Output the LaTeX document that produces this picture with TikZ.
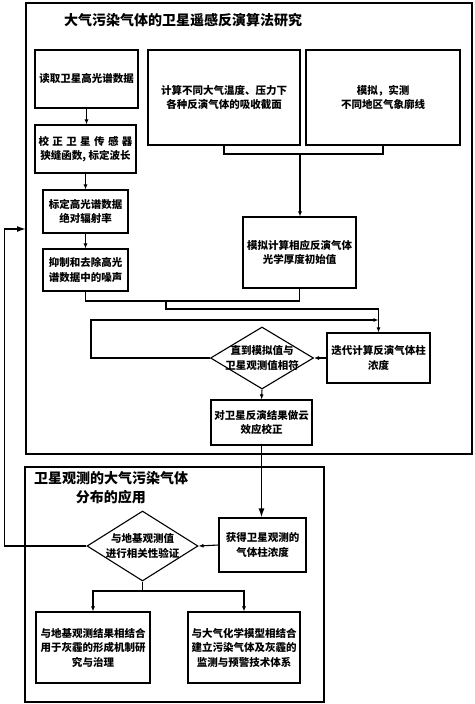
\documentclass[tikz,border=0pt]{standalone}
\usepackage{fontspec}
\setmainfont{Noto Sans CJK SC}
\usetikzlibrary{arrows.meta,shapes.geometric}

\begin{document}
\begin{tikzpicture}[x=1pt,y=-1pt,>={Latex[length=5pt,width=4pt]},
    every node/.style={font=\fontsize{10.5}{14.5}\selectfont\bfseries},
    box/.style={draw,line width=1.1pt,align=center,inner sep=1pt},
    dia/.style={draw,diamond,line width=1.1pt,inner sep=0pt},
    frame/.style={draw,line width=1.8pt,inner sep=0pt},
    line/.style={line width=1.1pt},
    big/.style={line width=1.5pt,-{Latex[length=9pt,width=6pt]}},
    head/.style={font=\fontsize{14}{19}\selectfont\bfseries,align=center}]
\useasboundingbox (0,0) rectangle (474,704);
\node[frame,minimum width=446pt,minimum height=451pt] (alg) at (249,228.5) {};
\node[frame,minimum width=299pt,minimum height=235pt] (app) at (174.5,584.5) {};
\node[head] (t1) at (183,20) {大气污染气体的卫星遥感反演算法研究};
\node[head] (t2) at (111,487.5) {卫星观测的大气污染气体\\分布的应用};
\node[box,minimum width=103pt,minimum height=58pt] (A) at (86.5,79) {读取卫星高光谱数据};
\node[box,minimum width=152pt,minimum height=95pt] (B) at (224,97.5)
    {计算不同大气温度、压力下\\各种反演气体的吸收截面};
\node[box,minimum width=154pt,minimum height=95pt] (C) at (383,97.5)
    {模拟，实测\\不同地区气象廓线};
\node[box,minimum width=101pt,minimum height=48pt] (A2) at (85.5,149)
    {\makebox[94pt][s]{校 正 卫 星 传 感 器}\\狭缝函数, 标定波长};
\node[box,minimum width=85pt,minimum height=43pt] (A3) at (85.5,211.5) {标定高光谱数据\\绝对辐射率};
\node[box,minimum width=85pt,minimum height=42pt] (A4) at (85.5,270) {抑制和去除高光\\谱数据中的噪声};
\node[box,minimum width=113pt,minimum height=71pt] (D) at (299.5,252.5)
    {模拟计算相应反演气体\\光学厚度初始值};
\node[box,minimum width=103pt,minimum height=50pt] (E) at (378.5,358) {迭代计算反演气体柱\\浓度};
\node[dia,minimum width=103pt,minimum height=62pt,
    label={[align=center]center:直到模拟值与\\卫星观测值相符}] (F) at (262,358) {};
\node[box,minimum width=101pt,minimum height=45pt] (G) at (261.5,422.5) {对卫星反演结果做云\\效应校正};
\node[box,minimum width=87pt,minimum height=54pt] (H) at (262.5,545) {获得卫星观测的\\气体柱浓度};
\node[dia,minimum width=111pt,minimum height=70pt,
    label={[align=center]center:与地基观测值\\进行相关性验证}] (I) at (142.5,546) {};
\node[box,minimum width=114pt,minimum height=71pt] (J) at (93,647.5)
    {与地基观测结果相结合\\用于灰霾的形成机制研\\究与治理};
\node[box,minimum width=112pt,minimum height=71pt] (K) at (244,647.5)
    {与大气化学模型相结合\\建立污染气体及灰霾的\\监测与预警技术体系};
\coordinate (bc) at (300,154);
\coordinate (ad) at (166,301);
\coordinate (lp) at (91,320);
\coordinate (ij) at (142.5,591);
\coordinate (back) at (26,229);
\draw[line,->] (A) -- (A.south |- A2.north);
\draw[line,->] (A2) -- (A2.south |- A3.north);
\draw[line,->] (A3) -- (A4);
\draw[line] (B.south) |- (bc) -| (C.south);
\draw[line,->] (bc) -- (bc |- D.north);
\draw[line] (A4.south) |- (ad) -| (D.south);
\draw[line,->] (ad) -- ++(0,8) -| (E.north);
\draw[line,->] (E.west) -- (F.east);
\draw[line,->] (F.west) -| (lp) -- (lp -| E.north);
\draw[line,->] (F.south) -- (G.north);
\draw[big] (G.south) -- (G.south |- H.north);
\draw[line,->] (H.west) -- (I.east);
\draw[big] (I.west) -- ++(-82,0) |- (back);
\draw[line] (I.south) -- (ij);
\draw[line,->] (ij) -| (J.north);
\draw[line,->] (ij) -| (K.north);
\end{tikzpicture}
\end{document}
